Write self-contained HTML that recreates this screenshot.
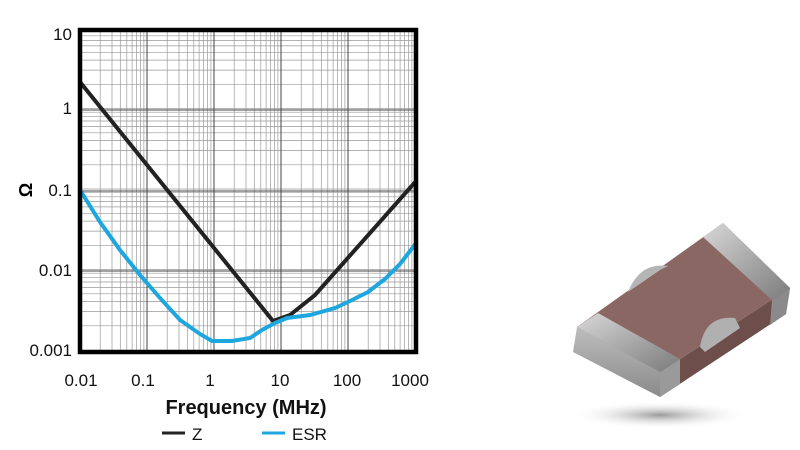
<!DOCTYPE html>
<html><head><meta charset="utf-8"><style>
html,body{margin:0;padding:0;background:#fff;}
svg{display:block;font-family:"Liberation Sans",sans-serif;}
</style></head><body>
<svg width="800" height="450" viewBox="0 0 800 450" xmlns="http://www.w3.org/2000/svg">
<defs>
<linearGradient id="cap" x1="0" y1="0" x2="1" y2="1"><stop offset="0" stop-color="#d8d8d8"/><stop offset="0.5" stop-color="#a9a9a9"/><stop offset="1" stop-color="#7c7c7c"/></linearGradient>
<linearGradient id="capf" x1="0" y1="0" x2="0" y2="1"><stop offset="0" stop-color="#bdbdbd"/><stop offset="1" stop-color="#8a8a8a"/></linearGradient>
<radialGradient id="sh" cx="0.5" cy="0.5" r="0.5"><stop offset="0" stop-color="#9a9a9a"/><stop offset="1" stop-color="#fff" stop-opacity="0"/></radialGradient>
</defs>
<g stroke="#999" stroke-width="0.7" fill="none">
<path d="
M100.2 30V352M112 30V352M120.3 30V352M126.8 30V352M132.1 30V352M136.6 30V352M140.5 30V352M143.9 30V352M147 30V352
M167.2 30V352M179 30V352M187.3 30V352M193.8 30V352M199.1 30V352M203.6 30V352M207.5 30V352M210.9 30V352M214 30V352
M234.2 30V352M246 30V352M254.3 30V352M260.8 30V352M266.1 30V352M270.6 30V352M274.5 30V352M277.9 30V352M281 30V352
M301.2 30V352M313 30V352M321.3 30V352M327.8 30V352M333.1 30V352M337.6 30V352M341.5 30V352M344.9 30V352M348 30V352
M368.2 30V352M380 30V352M388.3 30V352M394.8 30V352M400.1 30V352M404.6 30V352M408.5 30V352M411.9 30V352
"/>
<path d="
M80 325.8H415M80 311.6H415M80 301.6H415M80 293.8H415M80 287.4H415M80 282H415M80 277.3H415M80 273.2H415M80 269.5H415
M80 245.3H415M80 231.1H415M80 221.1H415M80 213.3H415M80 206.9H415M80 201.5H415M80 196.8H415M80 192.7H415M80 189H415
M80 164.8H415M80 150.6H415M80 140.6H415M80 132.8H415M80 126.4H415M80 121H415M80 116.3H415M80 112.2H415M80 108.5H415
M80 84.3H415M80 70.1H415M80 60.1H415M80 52.3H415M80 45.9H415M80 40.5H415M80 35.8H415M80 31.7H415
"/>
</g>
<g stroke="#444" stroke-width="1">
<path d="M147 30V352M214 30V352M281 30V352M348 30V352M80 271H415M80 191H415M80 110H415"/>
</g>
<polyline fill="none" stroke="#222" stroke-width="4" points="80,82 273,321 290,315 315,295 417,180"/>
<polyline fill="none" stroke="#1ea6df" stroke-width="4" points="80,190 100,222 120,250 140,275 160,298 180,320 200,334 212,341 232,341 250,338 262,330 275,323 287,318 310,315 335,308 350,301 368,292 385,279 400,264 417,242"/>
<rect x="80" y="30" width="336" height="322" fill="none" stroke="#000" stroke-width="4.5"/>
<g font-size="17" fill="#111" text-anchor="end">
<text x="72" y="40">10</text>
<text x="72" y="114">1</text>
<text x="72" y="196">0.1</text>
<text x="72" y="276">0.01</text>
<text x="72" y="356">0.001</text>
</g>
<text x="0" y="0" font-size="18" font-weight="bold" text-anchor="middle" transform="translate(32 190) rotate(-90)">Ω</text>
<g font-size="17" fill="#111" text-anchor="middle">
<text x="81" y="386">0.01</text>
<text x="143" y="386">0.1</text>
<text x="210" y="386">1</text>
<text x="280" y="386">10</text>
<text x="347" y="386">100</text>
<text x="410" y="386">1000</text>
</g>
<text x="246" y="414" font-size="20" font-weight="bold" text-anchor="middle" fill="#111">Frequency (MHz)</text>
<line x1="162" y1="433" x2="185" y2="433" stroke="#222" stroke-width="3"/>
<text x="192" y="440" font-size="17" fill="#111">Z</text>
<line x1="262" y1="433" x2="285" y2="433" stroke="#1ea6df" stroke-width="3"/>
<text x="292" y="440" font-size="17" fill="#111">ESR</text>
<ellipse cx="660" cy="415" rx="90" ry="14" fill="url(#sh)"/>
<polygon points="577,327 660,372 660,397 573,352" fill="url(#capf)"/>
<polygon points="660,372 790,288 786,314 660,397" fill="#6e4e4b"/>
<polygon points="660,372 680,359 680,384 660,397" fill="#9a9a9a"/>
<polygon points="772,300 790,288 786,314 770,325" fill="#8a8a8a"/>
<polygon points="577,327 723,223 790,288 660,372" fill="#8b6764"/>
<polygon points="577,327 598,313 680,359 660,372" fill="url(#cap)"/>
<polygon points="703,237 723,223 790,288 772,300" fill="url(#cap)"/>
<path d="M628,292 Q640,262 668,266 L660,270 Z" fill="#b5b5b5"/>
<path d="M700,347 Q705,315 735,318 L740,328 L705,352 Z" fill="#b0b0b0"/>
</svg>
</body></html>
